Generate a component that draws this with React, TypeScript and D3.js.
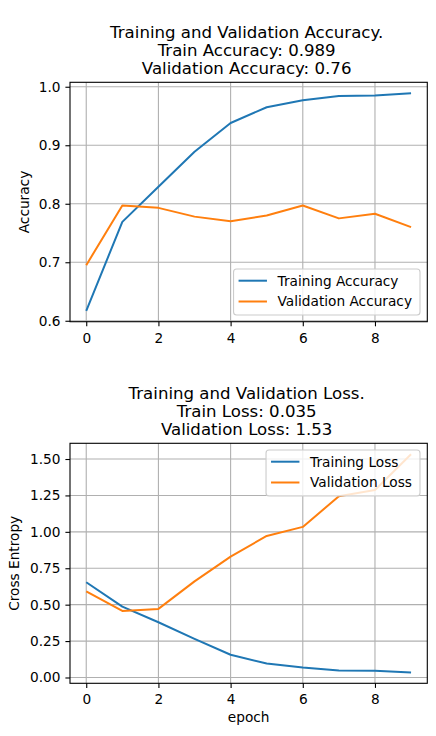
import { useEffect, useRef } from 'react';
import * as d3 from 'd3';

// values
const epochs = [0, 1, 2, 3, 4, 5, 6, 7, 8, 9];
const trainAcc = [0.617, 0.769, 0.829, 0.889, 0.938, 0.965, 0.977, 0.984, 0.985, 0.989];
const valAcc = [0.695, 0.797, 0.793, 0.778, 0.770, 0.780, 0.797, 0.775, 0.783, 0.760];
const trainLoss = [0.654, 0.487, 0.379, 0.265, 0.156, 0.096, 0.068, 0.048, 0.046, 0.035];
const valLoss = [0.592, 0.457, 0.471, 0.660, 0.830, 0.972, 1.034, 1.244, 1.287, 1.533];

const xTicks = [0, 2, 4, 6, 8];
const accTicks = [0.6, 0.7, 0.8, 0.9, 1.0];
const lossTicks = [0, 0.25, 0.5, 0.75, 1.0, 1.25, 1.5];

const accTitle = ['Training and Validation Accuracy.', 'Train Accuracy: 0.989', 'Validation Accuracy: 0.76'];
const lossTitle = ['Training and Validation Loss.', 'Train Loss: 0.035', 'Validation Loss: 1.53'];
const accLegend = ['Training Accuracy', 'Validation Accuracy'];
const lossLegend = ['Training Loss', 'Validation Loss'];

const W = 436;
const H = 736;
const FONT = '"DejaVu Sans", "Liberation Sans", sans-serif';
const COLORS = ['#1f77b4', '#ff7f0e'];
const LEFT = 70;
const RIGHT = 427.3;
const FS = 13.7;
const TITLE_FS = 16.6;

interface Panel {
  top: number;
  bottom: number;
  series: number[][];
  ticks: number[];
  fmt: (v: number) => string;
  ylabel: string;
  ylabelX: number;
  title: string[];
  legend: string[];
  legendLoc: 'lower' | 'upper';
  xlabel?: string;
}

const panels: Panel[] = [
  {
    top: 82.3, bottom: 321.7, series: [trainAcc, valAcc], ticks: accTicks,
    fmt: d3.format('.1f'), ylabel: 'Accuracy', ylabelX: 29, title: accTitle,
    legend: accLegend, legendLoc: 'lower'
  },
  {
    top: 443.3, bottom: 683.3, series: [trainLoss, valLoss], ticks: lossTicks,
    fmt: d3.format('.2f'), ylabel: 'Cross Entropy', ylabelX: 19, title: lossTitle,
    legend: lossLegend, legendLoc: 'upper', xlabel: 'epoch'
  }
];

function drawPanel(root: d3.Selection<SVGSVGElement, unknown, null, undefined>, p: Panel) {
  const x = d3.scaleLinear().domain([-0.45, 9.45]).range([LEFT, RIGHT]);
  const all = p.series.flat();
  const [lo, hi] = d3.extent(all) as [number, number];
  const pad = (hi - lo) * 0.05;
  const y = d3.scaleLinear().domain([lo - pad, hi + pad]).range([p.bottom, p.top]);

  const g = root.append('g').attr('font-family', FONT);

  // grid
  g.append('g').selectAll('line').data(xTicks).join('line')
    .attr('x1', d => x(d)).attr('x2', d => x(d))
    .attr('y1', p.top).attr('y2', p.bottom)
    .attr('stroke', '#b0b0b0').attr('stroke-width', 1.1);
  g.append('g').selectAll('line').data(p.ticks).join('line')
    .attr('x1', LEFT).attr('x2', RIGHT)
    .attr('y1', d => y(d)).attr('y2', d => y(d))
    .attr('stroke', '#b0b0b0').attr('stroke-width', 1.1);

  // lines
  const line = d3.line<number>().x((_, i) => x(epochs[i])).y(d => y(d));
  p.series.forEach((s, i) => {
    g.append('path').datum(s)
      .attr('fill', 'none').attr('stroke', COLORS[i])
      .attr('stroke-width', 2).attr('stroke-linejoin', 'round')
      .attr('d', line);
  });

  // axes
  const xAxis = g.append('g').attr('transform', `translate(0,${p.bottom})`)
    .call(d3.axisBottom(x).tickValues(xTicks).tickSize(4.6).tickPadding(6.7).tickFormat(d3.format('d')));
  const yAxis = g.append('g').attr('transform', `translate(${LEFT},0)`)
    .call(d3.axisLeft(y).tickValues(p.ticks).tickSize(4.6).tickPadding(4.9).tickFormat(p.fmt as any));
  [xAxis, yAxis].forEach(a => {
    a.select('.domain').remove();
    a.attr('font-family', FONT).attr('font-size', FS);
    a.selectAll('line').attr('stroke', '#000').attr('stroke-width', 1.1);
    a.selectAll('text').attr('fill', '#000');
  });

  // spines
  g.append('rect')
    .attr('x', LEFT).attr('y', p.top)
    .attr('width', RIGHT - LEFT).attr('height', p.bottom - p.top)
    .attr('fill', 'none').attr('stroke', '#000').attr('stroke-width', 1.1);

  // title
  const cx = (LEFT + RIGHT) / 2 - 2;
  p.title.forEach((t, i) => {
    g.append('text')
      .attr('x', cx).attr('y', p.top - 43.9 + i * 18)
      .attr('text-anchor', 'middle').attr('font-size', TITLE_FS).attr('fill', '#000')
      .text(t);
  });

  // y label
  g.append('text')
    .attr('transform', `translate(${p.ylabelX},${(p.top + p.bottom) / 2}) rotate(-90)`)
    .attr('text-anchor', 'middle').attr('font-size', FS).attr('fill', '#000')
    .text(p.ylabel);

  if (p.xlabel) {
    g.append('text')
      .attr('x', (LEFT + RIGHT) / 2).attr('y', p.bottom + 38.9)
      .attr('text-anchor', 'middle').attr('font-size', FS).attr('fill', '#000')
      .text(p.xlabel);
  }

  // legend
  const lg = g.append('g');
  const box = lg.append('rect');
  const texts = p.legend.map(t =>
    lg.append('text').attr('font-size', FS).attr('fill', '#000').text(t)
  );
  const maxW = d3.max(texts, t => (t.node() as SVGTextElement).getComputedTextLength()) || 0;
  const boxW = 5 + 28.4 + 10.6 + maxW + 8;
  const boxH = 46;
  const bx = RIGHT - 7.3 - boxW;
  const by = p.legendLoc === 'lower' ? p.bottom - 6.7 - boxH : p.top + 6.7;
  box.attr('x', bx).attr('y', by).attr('width', boxW).attr('height', boxH)
    .attr('rx', 3).attr('fill', '#fff').attr('fill-opacity', 0.8)
    .attr('stroke', '#cccccc').attr('stroke-width', 1.1);
  const rows = [11.7, 32.5];
  texts.forEach((t, i) => {
    const ry = by + rows[i];
    lg.append('line')
      .attr('x1', bx + 5).attr('x2', bx + 5 + 28.4)
      .attr('y1', ry).attr('y2', ry)
      .attr('stroke', COLORS[i]).attr('stroke-width', 2);
    t.attr('x', bx + 5 + 28.4 + 10.6).attr('y', ry + 4.9);
  });
}

export default function App() {
  const svgRef = useRef<SVGSVGElement>(null);

  useEffect(() => {
    if (!svgRef.current) return;
    const svg = d3.select(svgRef.current);
    svg.selectAll('*').remove();
    svg.append('rect').attr('width', W).attr('height', H).attr('fill', '#fff');
    panels.forEach(p => drawPanel(svg, p));
  }, []);

  return (
    <svg
      ref={svgRef}
      width={W}
      height={H}
      style={{ position: 'absolute', left: 0, top: 0 }}
    />
  );
}
